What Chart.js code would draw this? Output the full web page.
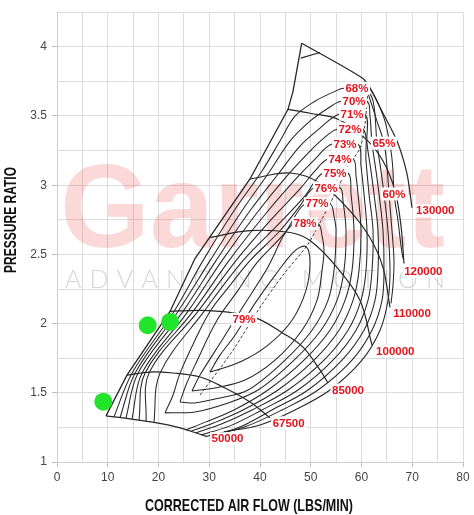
<!DOCTYPE html>
<html><head><meta charset="utf-8">
<script src="https://cdn.jsdelivr.net/npm/chart.js@4.4.0/dist/chart.umd.min.js"></script>
<style>html,body{margin:0;padding:0;background:#fff;}#wrap{width:474px;height:515px;}</style>
</head><body><div id="wrap"><canvas id="c" width="474" height="515"></canvas></div>
<script>
// ---- axes ----
const xMin = 0, xMax = 80, xStep = 5, xLabelEvery = 10;
const yMin = 1, yMax = 4.25, yStep = 0.25, yLabelEvery = 0.5;
const xTitle = 'CORRECTED AIR FLOW (LBS/MIN)';
const yTitle = 'PRESSURE RATIO';

// ---- map boundary ----
const surgeLine = [[9.66,1.333],[13.79,1.628],[22.27,2.088],[27.19,2.470],[38.03,3.045],[45.52,3.548],[46.50,3.678],[48.22,4.026]];
const topNotch = [[48.02,3.918],[51.82,3.959]];

// ---- speed lines ----
const speedNames = ['50000','67500','85000','100000','110000','120000','130000'];
const speed50000 = [[9.66,1.333],[14.38,1.312],[19.70,1.283],[24.24,1.247],[29.56,1.183]];
const speed67500 = [[13.79,1.628],[18.33,1.650],[22.86,1.643],[28.18,1.614],[32.71,1.542],[38.03,1.434],[41.97,1.319]];
const speed85000 = [[22.27,2.088],[28.18,2.096],[34.09,2.081],[39.41,2.038],[44.53,1.931],[48.47,1.830],[51.82,1.665],[53.40,1.571]];
const speed100000 = [[29.95,2.622],[38.03,2.672],[45.91,2.658],[49.85,2.600],[55.17,2.406],[59.70,2.168],[62.07,1.844]];
const speed110000 = [[38.03,3.045],[45.91,3.088],[51.82,3.016],[57.73,2.815],[61.67,2.620],[64.24,2.405],[65.62,2.117]];
const speed120000 = [[45.52,3.548],[49.85,3.520],[55.37,3.477],[60.69,3.340],[64.24,3.175],[66.60,2.959],[67.78,2.707],[68.37,2.434]];
const speed130000 = [[48.22,4.026],[60.30,3.771],[62.07,3.678],[64.04,3.534],[67.00,3.319],[68.97,3.081],[69.95,2.837]];
const speedLabelX = [33.60,45.65,57.34,66.66,69.95,72.18,74.54];
const speedLabelY = [1.168,1.283,1.520,1.801,2.074,2.377,2.815];

// ---- efficiency islands ----
const eff60 = [[61.48,3.714],[63.05,3.607],[64.63,3.463],[65.81,3.247],[66.21,3.103],[66.40,2.937],[67.19,2.743],[67.78,2.563],[68.18,2.470]];
const eff65 = [[60.49,3.750],[61.67,3.621],[63.05,3.463],[64.43,3.304],[65.02,3.139],[65.42,2.937],[66.01,2.671],[66.40,2.455],[66.21,2.276],[65.81,2.146]];
const eff68 = [[11.23,1.326],[14.78,1.642],[23.05,2.088],[28.77,2.455],[34.88,2.815],[40.39,3.103],[43.94,3.319],[46.90,3.499],[50.84,3.607],[54.78,3.678],[56.55,3.700],[61.48,3.664],[62.46,3.571],[63.05,3.304],[63.84,3.103],[64.43,2.937],[65.22,2.671],[65.62,2.383],[65.22,2.168],[63.65,1.952],[60.10,1.736],[53.79,1.520],[46.90,1.376],[40.00,1.268],[32.91,1.218]];
const eff70 = [[12.41,1.319],[15.37,1.642],[23.84,2.088],[30.15,2.455],[36.45,2.815],[41.97,3.103],[45.91,3.319],[49.85,3.463],[53.40,3.556],[55.96,3.607],[61.08,3.607],[61.67,3.499],[62.07,3.304],[62.86,3.103],[63.45,2.937],[64.24,2.671],[64.43,2.383],[64.04,2.168],[62.07,1.952],[58.13,1.736],[51.43,1.520],[44.33,1.376],[37.04,1.254],[30.94,1.196]];
const eff71 = [[13.60,1.319],[15.96,1.642],[24.83,2.088],[31.33,2.455],[38.03,2.815],[43.74,3.088],[47.88,3.283],[51.82,3.412],[55.57,3.513],[60.69,3.513],[61.08,3.304],[61.87,3.103],[62.46,2.937],[63.25,2.671],[63.25,2.383],[62.66,2.168],[60.49,1.952],[56.16,1.736],[49.46,1.520],[42.36,1.376],[35.67,1.247],[29.36,1.184]];
const eff72 = [[14.78,1.311],[16.75,1.642],[25.81,2.088],[32.51,2.455],[39.41,2.801],[45.32,3.067],[49.85,3.247],[52.81,3.347],[55.17,3.405],[60.30,3.405],[60.89,3.175],[61.48,2.937],[62.27,2.671],[62.07,2.383],[61.28,2.168],[58.92,1.952],[54.38,1.736],[47.49,1.520],[40.39,1.376],[34.09,1.261],[28.37,1.196]];
const eff73 = [[16.16,1.304],[17.34,1.642],[26.80,2.088],[33.89,2.455],[40.79,2.779],[46.70,3.031],[50.84,3.189],[54.19,3.297],[59.31,3.297],[59.90,3.139],[60.49,2.937],[61.08,2.671],[60.89,2.383],[59.90,2.168],[57.34,1.952],[52.61,1.736],[45.52,1.520],[38.42,1.376],[32.51,1.276],[27.39,1.211]];
const eff74 = [[17.54,1.297],[18.13,1.642],[27.78,2.088],[35.27,2.455],[42.36,2.758],[47.88,2.973],[50.84,3.103],[53.40,3.189],[58.33,3.189],[58.92,3.067],[59.31,2.937],[59.90,2.671],[59.51,2.383],[58.33,2.168],[55.57,1.952],[50.64,1.736],[43.55,1.520],[36.65,1.376],[30.94,1.283],[26.40,1.222]];
const eff75 = [[19.11,1.290],[20.30,1.642],[28.97,2.088],[36.65,2.455],[43.94,2.729],[48.87,2.923],[52.41,3.088],[57.34,3.088],[57.93,2.937],[58.52,2.671],[58.13,2.383],[56.75,2.168],[53.79,1.952],[48.67,1.736],[41.58,1.520],[34.88,1.376],[29.36,1.290],[25.42,1.232]];
const eff76 = [[21.28,1.355],[22.86,1.484],[24.24,1.642],[27.19,1.880],[30.15,2.088],[34.09,2.276],[38.03,2.455],[43.94,2.671],[47.88,2.851],[50.64,2.981],[55.76,2.981],[56.35,2.887],[56.95,2.671],[56.55,2.383],[55.17,2.168],[52.02,1.952],[46.70,1.736],[39.61,1.520],[33.10,1.419],[27.19,1.362],[21.28,1.355]];
const eff77 = [[24.24,1.434],[25.42,1.556],[27.19,1.700],[31.53,2.024],[35.67,2.240],[39.41,2.441],[44.93,2.657],[48.87,2.865],[53.79,2.865],[54.58,2.779],[54.98,2.671],[54.58,2.383],[53.40,2.168],[50.25,1.952],[44.93,1.736],[37.64,1.520],[32.12,1.463],[27.19,1.427],[24.24,1.434]];
const eff78 = [[26.60,1.513],[28.18,1.628],[32.51,1.880],[36.06,2.088],[41.18,2.383],[46.50,2.722],[51.43,2.722],[52.22,2.635],[52.61,2.527],[52.22,2.383],[51.23,2.168],[48.28,1.952],[42.96,1.736],[37.04,1.592],[31.13,1.535],[26.60,1.513]];
const eff79 = [[30.15,1.650],[32.12,1.772],[35.07,1.916],[39.01,2.146],[42.96,2.348],[46.90,2.527],[49.06,2.556],[49.85,2.441],[49.06,2.240],[46.31,2.024],[41.58,1.844],[36.06,1.722],[30.15,1.650]];
const peakLine = [[28.18,1.484],[34.68,1.808],[40.00,2.117],[44.93,2.369],[49.26,2.563],[51.82,2.729],[55.37,2.981],[57.34,3.139],[59.70,3.268],[60.69,3.441],[61.28,3.700]];
const effNames = ['60%','65%','68%','70%','71%','72%','73%','74%','75%','76%','77%','78%','79%'];
const effLabelX = [66.40,64.43,59.11,58.52,58.13,57.73,56.75,55.76,54.78,53.00,51.23,48.87,36.85];
const effLabelY = [2.937,3.304,3.700,3.607,3.513,3.405,3.297,3.189,3.088,2.981,2.866,2.722,2.031];

// ---- operating points ----
const opFlow = [9.12,17.87,22.27];
const opRatio = [1.436,1.988,2.012];

// ---- build datasets ----
const toXY = a => a.map(p => ({x:p[0], y:p[1]}));
const LINE = '#262626';
function lineSet(arr, tension, width, dash){
  return {type:'scatter', data:toXY(arr), showLine:true, pointRadius:0, borderColor:LINE,
          borderWidth:width||1.1, tension:tension, borderDash:dash||[], fill:false};
}
const datasets = [];
datasets.push({type:'scatter', data: opFlow.map((x,i)=>({x:x,y:opRatio[i]})), pointRadius:9,
  pointBackgroundColor:'#22e42a', pointBorderColor:'#22e42a', pointBorderWidth:0, showLine:false});
datasets.push(lineSet(surgeLine, 0, 1.3));
datasets.push(lineSet(topNotch, 0, 1.1));
[speed50000,speed67500,speed85000,speed100000,speed110000,speed120000].forEach(s=>datasets.push(lineSet(s,0.35,1.2)));
datasets.push(lineSet(speed130000,0.25,1.2));
[eff60,eff65,eff68,eff70,eff71,eff72,eff73,eff74,eff75,eff76,eff77,eff78,eff79].forEach(s=>datasets.push(lineSet(s,0.35,1.05)));
datasets.push(lineSet(peakLine,0.3,0.9,[3,2]));

const isMult = (v, m) => Math.abs(v/m - Math.round(v/m)) < 1e-6;

const decor = {
  id:'decor',
  beforeDatasetsDraw(chart){
    const ctx = chart.ctx;
    ctx.save();
    // Garrett watermark
    ctx.font = 'bold 118px "Liberation Sans", Arial, sans-serif';
    ctx.textBaseline = 'alphabetic';
    ctx.fillStyle = 'rgba(240,80,80,0.22)';
    const gw = ctx.measureText('Garrett').width;
    ctx.save();
    ctx.translate(60, 247);
    ctx.scale(385/gw, 1);
    ctx.fillText('Garrett', 0, 0);
    ctx.restore();
    // ADVANCING MOTION
    ctx.font = '300 25px Lato, "Liberation Sans", sans-serif';
    ctx.fillStyle = 'rgba(150,150,150,0.4)';
    const txt = 'ADVANCING MOTION';
    const chars = txt.split('');
    const widths = chars.map(c=>ctx.measureText(c).width);
    const tot = widths.reduce((a,b)=>a+b,0);
    const gap = (380 - tot)/(chars.length-1);
    let x = 65;
    ctx.textBaseline = 'middle';
    chars.forEach((c,i)=>{ ctx.fillText(c, x, 280); x += widths[i] + gap; });
    ctx.restore();
  },
  afterDatasetsDraw(chart){
    const ctx = chart.ctx, xs = chart.scales.x, ys = chart.scales.y;
    ctx.save();
    ctx.font = 'bold 11.5px "Liberation Sans", Arial, sans-serif';
    ctx.textAlign = 'center';
    ctx.textBaseline = 'middle';
    const draw = (t, vx, vy) => {
      const px = xs.getPixelForValue(vx), py = ys.getPixelForValue(vy);
      const w = ctx.measureText(t).width;
      ctx.fillStyle = '#ffffff';
      ctx.fillRect(px - w/2 - 1.5, py - 6.5, w + 3, 13);
      ctx.fillStyle = '#e4141d';
      ctx.fillText(t, px, py + 0.5);
    };
    effNames.forEach((t,i)=>draw(t, effLabelX[i], effLabelY[i]));
    speedNames.forEach((t,i)=>draw(t, speedLabelX[i], speedLabelY[i]));
    ctx.restore();
  },
  afterDraw(chart){
    const ctx = chart.ctx;
    ctx.save();
    ctx.fillStyle = '#111';
    ctx.font = 'bold 17px "Liberation Sans", Arial, sans-serif';
    ctx.textAlign = 'center';
    ctx.textBaseline = 'middle';
    let w = ctx.measureText(xTitle).width;
    ctx.save(); ctx.translate(249, 506); ctx.scale(208/w, 1); ctx.fillText(xTitle, 0, 0); ctx.restore();
    w = ctx.measureText(yTitle).width;
    ctx.save(); ctx.translate(11, 220); ctx.rotate(-Math.PI/2); ctx.scale(106/w, 1); ctx.fillText(yTitle, 0, 0); ctx.restore();
    ctx.restore();
  }
};

new Chart(document.getElementById('c'), {
  type:'scatter',
  data:{datasets},
  options:{
    responsive:false, animation:false, devicePixelRatio:1,
    layout:{padding:{left:0,right:11,top:9,bottom:0}},
    plugins:{legend:{display:false}, tooltip:{enabled:false}},
    scales:{
      x:{type:'linear', min:xMin, max:xMax,
         afterFit: s => { s.height = 53; },
         border:{color:'#cfcfcf'},
         grid:{color:'#dcdcdc', tickLength:5, tickColor: c => isMult(c.tick.value, xLabelEvery) ? '#bdbdbd' : 'rgba(0,0,0,0)'},
         ticks:{stepSize:xStep, padding:3, color:'#444', font:{family:'"Liberation Sans", Arial, sans-serif', size:12},
                maxRotation:0, autoSkip:false, callback: v => isMult(v, xLabelEvery) ? String(v) : ''}},
      y:{type:'linear', min:yMin, max:yMax,
         afterFit: s => { s.width = 57; },
         border:{color:'#cfcfcf'},
         grid:{color:'#dcdcdc', tickLength:5, tickColor: c => isMult(c.tick.value, yLabelEvery) ? '#bdbdbd' : 'rgba(0,0,0,0)'},
         ticks:{stepSize:yStep, padding:5, color:'#444', font:{family:'"Liberation Sans", Arial, sans-serif', size:12},
                autoSkip:false, callback: v => isMult(v, yLabelEvery) ? String(v) : ''}}
    }
  },
  plugins:[decor]
});
</script>
</body></html>
